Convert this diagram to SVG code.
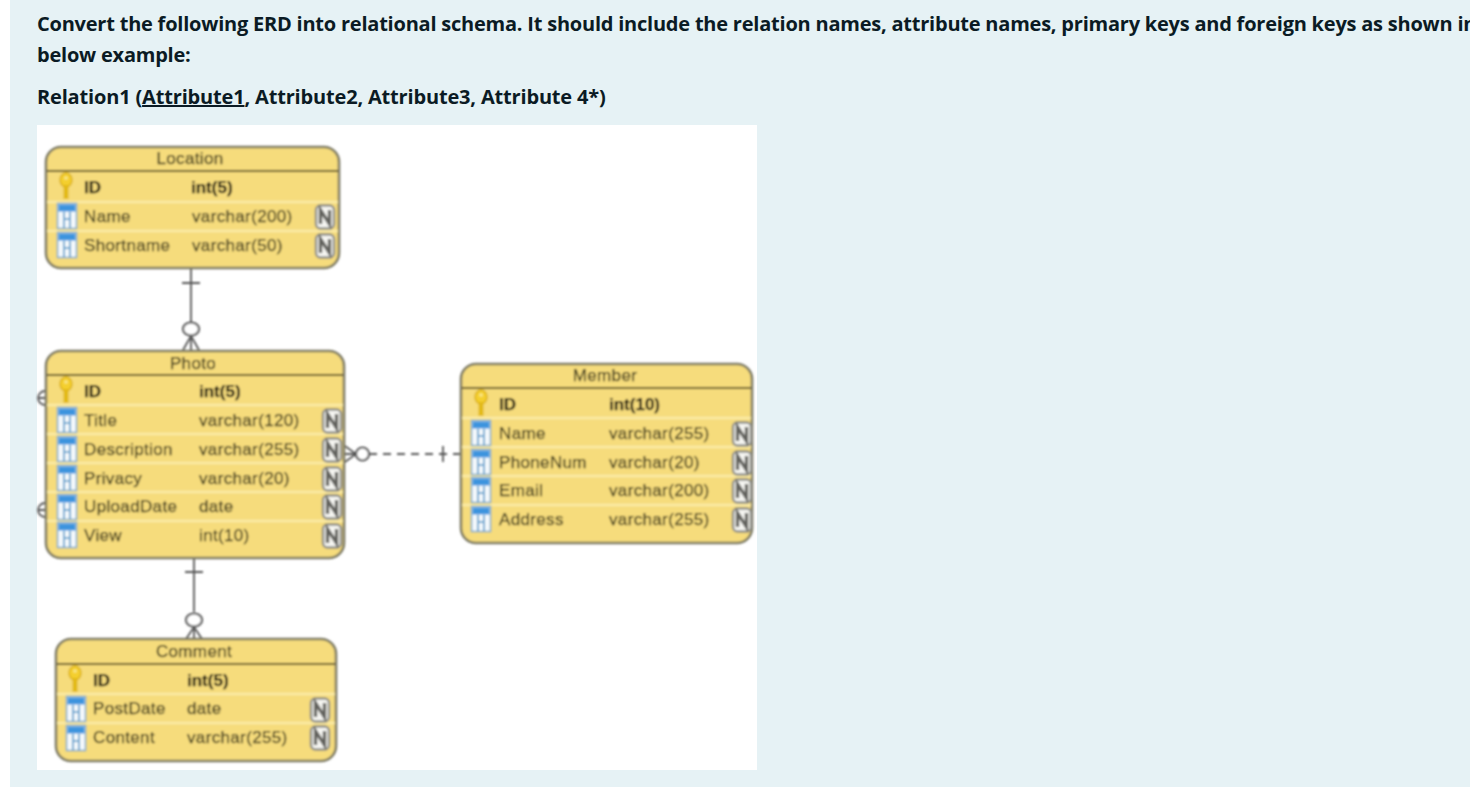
<svg xmlns="http://www.w3.org/2000/svg" width="1470" height="787" viewBox="0 0 1470 787">
<style>
.hd{font-family:"Open Sans","Liberation Sans",sans-serif;font-weight:700;font-size:20px;fill:#0b1b24}
.t{font-family:"Liberation Sans",Arial,sans-serif;font-size:17px;letter-spacing:.35px;fill:#3f3a1c;stroke:#3f3a1c;stroke-width:.25}
.b{font-weight:bold;fill:#1a170a;stroke:#1a170a;letter-spacing:0}
.c{text-anchor:middle}
.ent{fill:#f6dc7c;stroke:#7d7a63;stroke-width:2.6}
.hl{stroke:#5b5128;stroke-width:2.2}
.sep{stroke:#fbeaa6;stroke-width:2.5}
.cn{fill:none;stroke:#555;stroke-width:1.8}
.cr{fill:#fff;stroke:#555;stroke-width:2.2}
</style>
<defs>
<filter id="soft" x="-5%" y="-5%" width="110%" height="110%"><feGaussianBlur stdDeviation="0.8"/></filter>
<g id="key"><ellipse cx="0" cy="-3" rx="6" ry="7" fill="#f4cf2e" stroke="#dcb41c" stroke-width="1.5"/><circle cx="0" cy="-5" r="1.8" fill="#f9e88c"/><path d="M0 2V16" stroke="#e2b918" stroke-width="5"/></g>
<g id="tbl"><rect x="-9.5" y="-12.5" width="19" height="25" fill="#f4f9fc" stroke="#7aa7c7" stroke-width="1.5"/><rect x="-8.5" y="-11.500" width="17" height="7" fill="#3d94de"/><path d="M-3 -4V12M3 -4V12M-3 3H3" stroke="#6fa9d2" stroke-width="2"/></g>
<g id="nb"><rect x="-9" y="-11.500" width="18" height="23" rx="4.500" fill="#f6f6f2" stroke="#8f8f88" stroke-width="2.400"/><path d="M-4.500 7V-7L4.500 7V-7" fill="none" stroke="#63635f" stroke-width="3.400"/></g>
</defs>
<rect x="0" y="0" width="1470" height="787" fill="#ffffff"/>
<rect x="10" y="0" width="1460" height="787" fill="#e6f2f5"/>
<rect x="37" y="125" width="720" height="645" fill="#ffffff"/>
<text class="hd" x="37" y="31" letter-spacing="-.22">Convert the following ERD into relational schema. It should include the relation names, attribute names, primary keys and foreign keys as shown in</text>
<text class="hd" x="37" y="62" letter-spacing="-.22">below example:</text>
<text class="hd" x="37" y="104" letter-spacing="-.17">Relation1 (<tspan text-decoration="underline">Attribute1</tspan>, Attribute2, Attribute3, Attribute 4*)</text>
<g filter="url(#soft)">
<g id="connectors">
<path class="cn" d="M191 269V323M182 283H200"/>
<ellipse class="cr" cx="191" cy="329" rx="8" ry="6.500"/>
<path class="cn" d="M191 336L183 350M191 336L199 350M191 336V350"/>
<path class="cn" d="M194 559V612M185 572H203"/>
<ellipse class="cr" cx="194" cy="620" rx="8" ry="6.500"/>
<path class="cn" d="M194 627L186 639M194 627L202 639M194 627V639"/>
<path class="cn" d="M345 446L356 454M345 462L356 454M345 454H356"/>
<circle class="cr" cx="362.500" cy="454" r="6.500"/>
<path class="cn" d="M369 454H460" stroke-dasharray="8 6"/>
<path class="cn" d="M443 446V462"/>
<path class="cn" d="M45 391A7 7 0 0 0 45 405M38 398H46"/>
<path class="cn" d="M45 503A7 7 0 0 0 45 517M38 510H46"/>
</g>
<g id="location">
<rect class="ent" x="46" y="147" width="293" height="121" rx="15"/>
<path class="hl" d="M47 171H338"/><path class="sep" d="M47 202H338M47 231H338"/>
<text class="t c" x="190" y="164">Location</text>
<use href="#key" x="66" y="183"/><text class="t b" x="84" y="193">ID</text><text class="t b" x="191" y="193">int(5)</text>
<use href="#tbl" x="67" y="216"/><text class="t" x="84" y="222">Name</text><text class="t" x="192" y="222">varchar(200)</text><use href="#nb" x="325" y="217"/>
<use href="#tbl" x="67" y="245"/><text class="t" x="84" y="251">Shortname</text><text class="t" x="192" y="251">varchar(50)</text><use href="#nb" x="325" y="246"/>
</g>
<g id="photo">
<rect class="ent" x="46" y="351" width="298" height="207" rx="15"/>
<path class="hl" d="M47 375H343"/><path class="sep" d="M47 405H343M47 434H343M47 463H343M47 492H343M47 521H343"/>
<text class="t c" x="193" y="369">Photo</text>
<use href="#key" x="66" y="387"/><text class="t b" x="84" y="397">ID</text><text class="t b" x="199" y="397">int(5)</text>
<use href="#tbl" x="67" y="420"/><text class="t" x="84" y="426">Title</text><text class="t" x="199" y="426">varchar(120)</text><use href="#nb" x="332" y="421"/>
<use href="#tbl" x="67" y="449"/><text class="t" x="84" y="455">Description</text><text class="t" x="199" y="455">varchar(255)</text><use href="#nb" x="332" y="450"/>
<use href="#tbl" x="67" y="478"/><text class="t" x="84" y="484">Privacy</text><text class="t" x="199" y="484">varchar(20)</text><use href="#nb" x="332" y="479"/>
<use href="#tbl" x="67" y="507"/><text class="t" x="84" y="512">UploadDate</text><text class="t" x="199" y="512">date</text><use href="#nb" x="332" y="507"/>
<use href="#tbl" x="67" y="535"/><text class="t" x="84" y="541">View</text><text class="t" x="199" y="541">int(10)</text><use href="#nb" x="332" y="536"/>
</g>
<g id="member">
<rect class="ent" x="461" y="364" width="291" height="179" rx="15"/>
<path class="hl" d="M462 388H751"/><path class="sep" d="M462 418H751M462 447H751M462 476H751M462 505H751"/>
<text class="t c" x="605" y="381">Member</text>
<use href="#key" x="481" y="400"/><text class="t b" x="499" y="410">ID</text><text class="t b" x="609" y="410">int(10)</text>
<use href="#tbl" x="481" y="433"/><text class="t" x="499" y="439">Name</text><text class="t" x="609" y="439">varchar(255)</text><use href="#nb" x="742" y="434"/>
<use href="#tbl" x="481" y="462"/><text class="t" x="499" y="468">PhoneNum</text><text class="t" x="609" y="468">varchar(20)</text><use href="#nb" x="742" y="463"/>
<use href="#tbl" x="481" y="490"/><text class="t" x="499" y="496">Email</text><text class="t" x="609" y="496">varchar(200)</text><use href="#nb" x="742" y="491"/>
<use href="#tbl" x="481" y="519"/><text class="t" x="499" y="525">Address</text><text class="t" x="609" y="525">varchar(255)</text><use href="#nb" x="742" y="520"/>
</g>
<g id="comment">
<rect class="ent" x="56" y="639" width="280" height="122" rx="15"/>
<path class="hl" d="M57 664H335"/><path class="sep" d="M57 694H335M57 723H335"/>
<text class="t c" x="194" y="657">Comment</text>
<use href="#key" x="75" y="676"/><text class="t b" x="93" y="686">ID</text><text class="t b" x="187" y="686">int(5)</text>
<use href="#tbl" x="76" y="709"/><text class="t" x="93" y="714">PostDate</text><text class="t" x="187" y="714">date</text><use href="#nb" x="320" y="710"/>
<use href="#tbl" x="76" y="738"/><text class="t" x="93" y="743">Content</text><text class="t" x="187" y="743">varchar(255)</text><use href="#nb" x="320" y="738"/>
</g>
</g>
</svg>
